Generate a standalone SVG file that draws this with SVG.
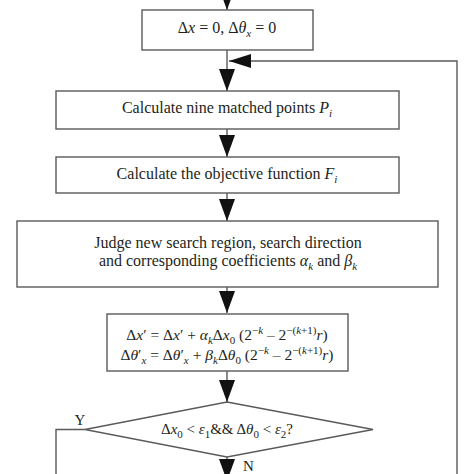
<svg xmlns="http://www.w3.org/2000/svg" width="474" height="474" viewBox="0 0 474 474">
<defs>
<style>
.box{fill:#fff;stroke:#5a5a5a;stroke-width:1.4}
.ln{fill:none;stroke:#5a5a5a;stroke-width:1.4}
.t{font-family:"Liberation Serif","Times New Roman",serif;font-size:16px;fill:#231f20;text-anchor:middle}
.m{font-size:15.5px}
.d{font-size:15px}
.i{font-style:italic}
.sub{font-size:11px;baseline-shift:-4px}
.sup{font-size:11px;baseline-shift:6px}
.lab{font-family:"Liberation Serif","Times New Roman",serif;font-size:15px;fill:#231f20}
</style>
<marker id="ah" viewBox="0 0 22 16" refX="22" refY="8" markerWidth="22" markerHeight="16" markerUnits="userSpaceOnUse" orient="auto">
<path d="M0,0 L22,8 L0,16 Z" fill="#111"/>
</marker>
<marker id="ahs" viewBox="0 0 22 14" refX="22" refY="7" markerWidth="22" markerHeight="14" markerUnits="userSpaceOnUse" orient="auto">
<path d="M0,0 L22,7 L0,14 Z" fill="#111"/>
</marker>
</defs>
<g id="connectors">
<path class="ln" d="M227,-20 V10" marker-end="url(#ah)"/>
<path class="ln" d="M227,50 V91" marker-end="url(#ah)"/>
<path class="ln" d="M457,480 V61 H229" marker-end="url(#ahs)"/>
<path class="ln" d="M227,129 V157" marker-end="url(#ah)"/>
<path class="ln" d="M227,193 V221" marker-end="url(#ah)"/>
<path class="ln" d="M227,287 V313" marker-end="url(#ah)"/>
<path class="ln" d="M227,371 V402" marker-end="url(#ah)"/>
<path class="ln" d="M227,457 V481" marker-end="url(#ah)"/>
<path class="ln" d="M85,429.5 H56 V480"/>
<text class="lab" x="80" y="425" text-anchor="middle">Y</text>
<text class="lab" x="243" y="471">N</text>
</g>
<g id="init">
<rect class="box" x="142" y="10" width="171" height="40"/>
<text class="t" x="227" y="33">Δ<tspan class="i">x</tspan> = 0, Δ<tspan class="i">θ</tspan><tspan class="sub i">x</tspan> = 0</text>
</g>
<g id="matched">
<rect class="box" x="56" y="91" width="343" height="38"/>
<text class="t" x="227" y="113">Calculate nine matched points <tspan class="i">P</tspan><tspan class="sub i">i</tspan></text>
</g>
<g id="objective">
<rect class="box" x="56" y="157" width="343" height="36"/>
<text class="t" x="227" y="179">Calculate the objective function <tspan class="i">F</tspan><tspan class="sub i">i</tspan></text>
</g>
<g id="judge">
<rect class="box" x="17" y="221" width="421" height="66"/>
<text class="t" x="228" y="248">Judge new search region, search direction</text>
<text class="t" x="228" y="266">and corresponding coefficients <tspan class="i">α</tspan><tspan class="sub i">k</tspan> and <tspan class="i">β</tspan><tspan class="sub i">k</tspan></text>
</g>
<g id="update">
<rect class="box" x="107" y="314" width="241" height="57"/>
<text class="t m" x="227" y="340">Δ<tspan class="i">x</tspan>′ = Δ<tspan class="i">x</tspan>′ + <tspan class="i">α</tspan><tspan class="sub i">k</tspan>Δ<tspan class="i">x</tspan><tspan class="sub">0</tspan> (2<tspan class="sup">−<tspan class="i">k</tspan></tspan> – 2<tspan class="sup">−(<tspan class="i">k</tspan>+1)</tspan><tspan class="i">r</tspan>)</text>
<text class="t m" x="227" y="360">Δ<tspan class="i">θ</tspan>′<tspan class="sub i">x</tspan> = Δ<tspan class="i">θ</tspan>′<tspan class="sub i">x</tspan> + <tspan class="i">β</tspan><tspan class="sub i">k</tspan>Δ<tspan class="i">θ</tspan><tspan class="sub">0</tspan> (2<tspan class="sup">−<tspan class="i">k</tspan></tspan> – 2<tspan class="sup">−(<tspan class="i">k</tspan>+1)</tspan><tspan class="i">r</tspan>)</text>
</g>
<g id="decision">
<polygon class="box" points="227,402 373,429.5 227,457 85,429.5"/>
<text class="t d" x="227" y="434">Δ<tspan class="i">x</tspan><tspan class="sub">0</tspan> &lt; <tspan class="i">ε</tspan><tspan class="sub">1</tspan>&amp;&amp; Δ<tspan class="i">θ</tspan><tspan class="sub">0</tspan> &lt; <tspan class="i">ε</tspan><tspan class="sub">2</tspan>?</text>
</g>
</svg>
